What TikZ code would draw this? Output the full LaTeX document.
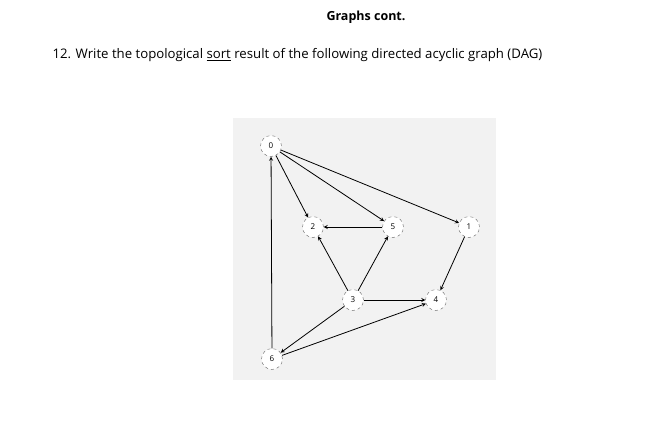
\documentclass[tikz,border=0pt]{standalone}
\usepackage{fontspec}
\setmainfont{Open Sans}
\begin{document}
\begin{tikzpicture}[x=1pt,y=-1pt,
  vtx/.style={circle,draw=black!60,dashed,fill=white,minimum size=21pt,inner sep=0pt,font=\fontsize{8}{9}\selectfont},
  edge/.style={-stealth,line width=0.8pt}]
\useasboundingbox (0,0) rectangle (663,441);
\fill[gray!10] (233,118) rectangle (496,380);
\node[font=\fontsize{12.5}{14}\selectfont\bfseries] (title) at (366,17) {Graphs cont.};
\node[anchor=west,font=\fontsize{13.2}{15}\selectfont] (q) at (49,55) {12. Write the topological \underline{sort} result of the following directed acyclic graph (DAG)};
\node[vtx] (n0) at (271,146) {0};
\node[vtx] (n2) at (313,227) {2};
\node[vtx] (n5) at (393,227) {5};
\node[vtx] (n1) at (469,227) {1};
\node[vtx] (n3) at (353,300) {3};
\node[vtx] (n4) at (436,300) {4};
\node[vtx] (n6) at (272,359) {6};
\draw[edge] (n0) -- (n2);
\draw[edge] (n0) -- (n5);
\draw[edge] (n0) -- (n1);
\draw[edge] (n5) -- (n2);
\draw[edge] (n3) -- (n2);
\draw[edge] (n3) -- (n5);
\draw[edge] (n3) -- (n4);
\draw[edge] (n3) -- (n6);
\draw[edge] (n1) -- (n4);
\draw[edge] (n6) -- (n4);
\draw[edge] (n6) -- (n0);
\end{tikzpicture}
\end{document}
